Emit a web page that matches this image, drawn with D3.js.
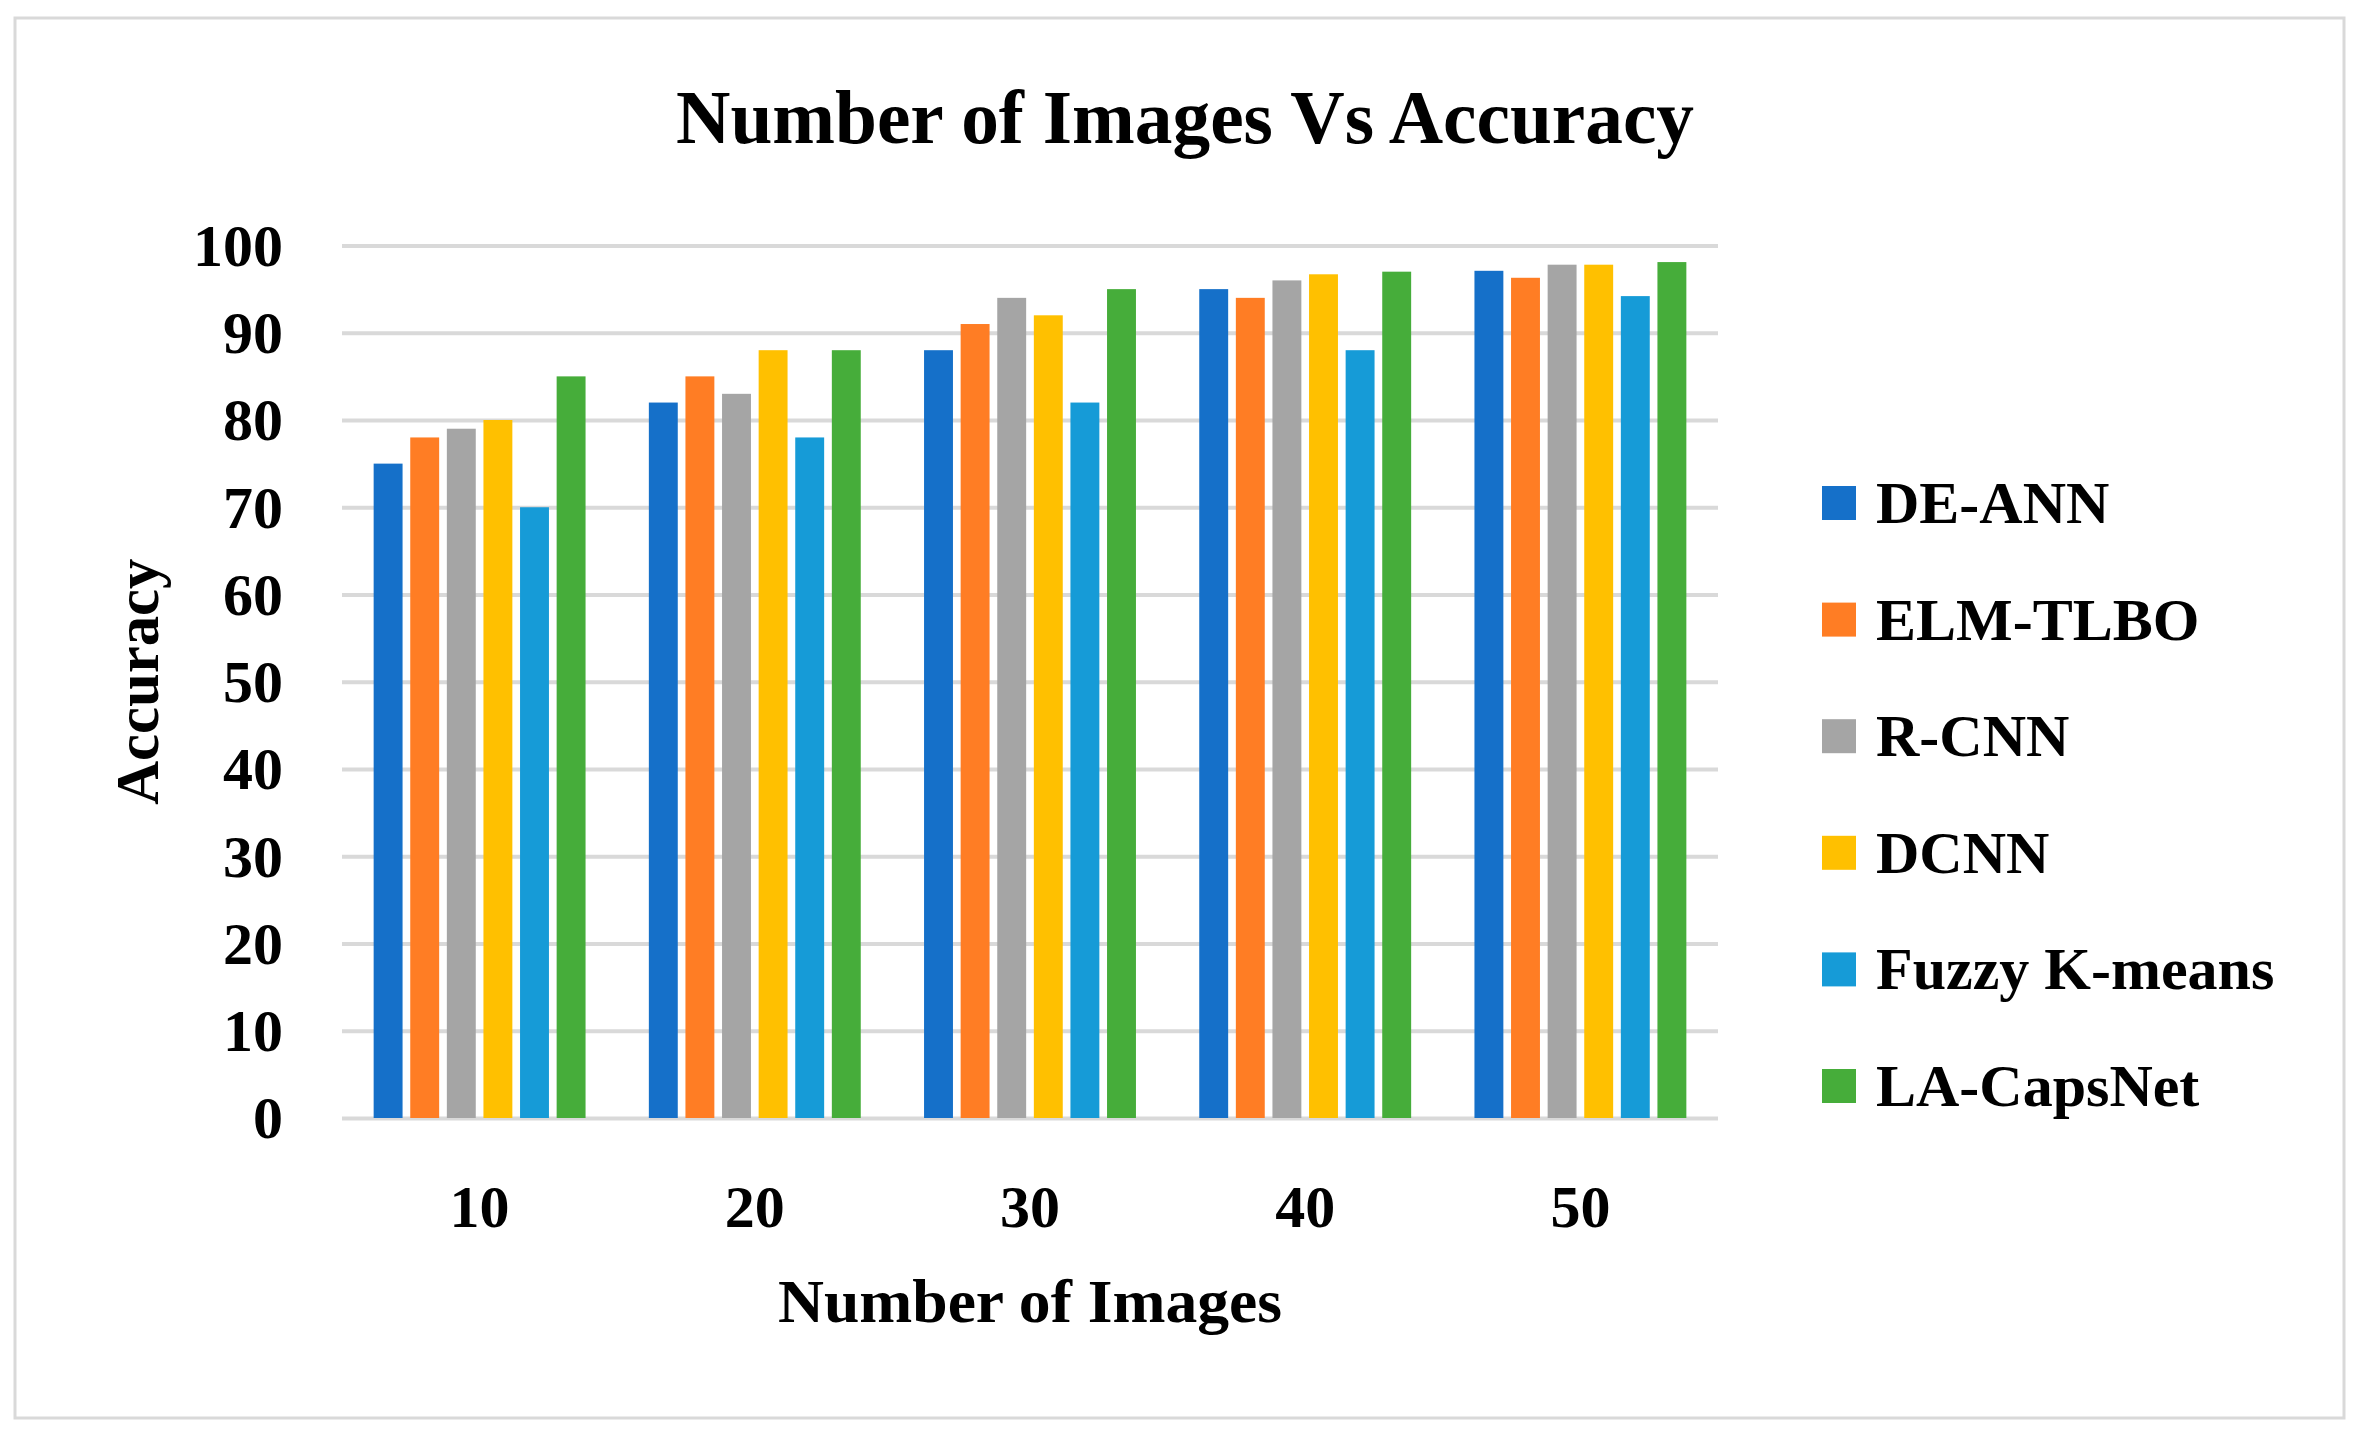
<!DOCTYPE html>
<html>
<head>
<meta charset="utf-8">
<script src="https://cdn.jsdelivr.net/npm/d3@7"></script>
<style>
  body { margin: 0; background: #ffffff; }
</style>
</head>
<body>
<script>
var w = 2362;
var h = 1440;

// chart values
var categories = ["10", "20", "30", "40", "50"];
var seriesNames = ["DE-ANN", "ELM-TLBO", "R-CNN", "DCNN", "Fuzzy K-means", "LA-CapsNet"];
var deAnn     = [75, 82, 88, 95, 97.1];
var elmTlbo   = [78, 85, 91, 94, 96.3];
var rCnn      = [79, 83, 94, 96, 97.8];
var dcnn      = [80, 88, 92, 96.7, 97.8];
var fuzzyK    = [70, 78, 82, 88, 94.2];
var laCapsNet = [85, 88, 95, 97, 98.1];
var yTicks = [0, 10, 20, 30, 40, 50, 60, 70, 80, 90, 100];

var seriesValues = [deAnn, elmTlbo, rCnn, dcnn, fuzzyK, laCapsNet];
var colors = ["#1570c9", "#ff7d24", "#a5a5a5", "#ffc000", "#169bd7", "#46ad3a"];

var fontFam = "'Liberation Serif', 'Times New Roman', serif";

// plot area (window.top is reserved, so use other names)
var plotLeft = 342, plotRight = 1718, plotTop = 245.5, plotBottom = 1118;
var plotW = plotRight - plotLeft;
var plotH = plotBottom - plotTop;

var svgContainer = d3.select("body").append("svg")
                                    .attr("width", w)
                                    .attr("height", h);

svgContainer.append("rect")
            .attr("x", 0).attr("y", 0)
            .attr("width", w).attr("height", h)
            .style("fill", "#ffffff");

// light outer frame
svgContainer.append("rect")
            .attr("x", 15).attr("y", 18)
            .attr("width", 2329).attr("height", 1400)
            .style("fill", "none")
            .style("stroke", "#d9d9d9")
            .style("stroke-width", 3);

var x0 = d3.scaleBand()
           .domain(categories)
           .range([0, plotW])
           .paddingInner(0.23)
           .paddingOuter(0.115);

var x1 = d3.scaleBand()
           .domain(seriesNames)
           .range([0, x0.bandwidth()])
           .paddingInner(0.21);

var y = d3.scaleLinear()
          .domain([0, 100])
          .range([plotH, 0]);

var plot = svgContainer.append("g")
                       .attr("transform", "translate(" + plotLeft + "," + plotTop + ")");

// y axis with gridlines
var yAxis = plot.append("g")
                .call(d3.axisLeft(y).tickValues(yTicks).tickSize(-plotW).tickPadding(59));

yAxis.select(".domain").remove();
yAxis.selectAll("line")
     .style("stroke", "#d9d9d9")
     .style("stroke-width", 4);
yAxis.selectAll("text")
     .style("font-family", fontFam)
     .style("font-weight", "bold")
     .style("font-size", "60px")
     .style("fill", "#000000")
     .attr("dy", "0.33em");

// x axis labels
var xAxis = plot.append("g")
                .attr("transform", "translate(0," + plotH + ")")
                .call(d3.axisBottom(x0).tickSize(0).tickPadding(0));

xAxis.select(".domain").remove();
xAxis.selectAll("text")
     .attr("y", 109)
     .attr("dy", 0)
     .style("font-family", fontFam)
     .style("font-weight", "bold")
     .style("font-size", "60px")
     .style("fill", "#000000");

// bars, one group per category
var groups = plot.selectAll("g.cat")
                 .data(categories)
                 .enter()
                 .append("g")
                 .attr("class", "cat")
                 .attr("transform", function(d){ return "translate(" + x0(d) + ",0)"; });

groups.selectAll("rect")
      .data(function(d, i){
          return seriesNames.map(function(s, j){ return {name: s, value: seriesValues[j][i], color: colors[j]}; });
      })
      .enter()
      .append("rect")
      .attr("x", function(d){ return x1(d.name); })
      .attr("y", function(d){ return y(d.value); })
      .attr("width", x1.bandwidth())
      .attr("height", function(d){ return y(0) - y(d.value); })
      .style("fill", function(d){ return d.color; });

// titles
svgContainer.append("text")
            .attr("x", 1185).attr("y", 143)
            .attr("text-anchor", "middle")
            .attr("textLength", 1018)
            .attr("lengthAdjust", "spacingAndGlyphs")
            .style("font-family", fontFam)
            .style("font-weight", "bold")
            .style("font-size", "76px")
            .text("Number of Images Vs Accuracy");

svgContainer.append("text")
            .attr("x", plotLeft + plotW / 2).attr("y", 1322)
            .attr("text-anchor", "middle")
            .attr("textLength", 504)
            .attr("lengthAdjust", "spacingAndGlyphs")
            .style("font-family", fontFam)
            .style("font-weight", "bold")
            .style("font-size", "61px")
            .text("Number of Images");

svgContainer.append("text")
            .attr("transform", "translate(158," + (plotTop + plotH / 2) + ") rotate(-90)")
            .attr("text-anchor", "middle")
            .attr("textLength", 246)
            .attr("lengthAdjust", "spacingAndGlyphs")
            .style("font-family", fontFam)
            .style("font-weight", "bold")
            .style("font-size", "61px")
            .text("Accuracy");

// legend
var legend = svgContainer.append("g")
                         .attr("transform", "translate(1822,503)");

var items = legend.selectAll("g")
                  .data(seriesNames)
                  .enter()
                  .append("g")
                  .attr("transform", function(d, i){ return "translate(0," + (i * 116.6) + ")"; });

items.append("rect")
     .attr("x", 0).attr("y", -17)
     .attr("width", 34).attr("height", 34)
     .style("fill", function(d, i){ return colors[i]; });

items.append("text")
     .attr("x", 54).attr("y", 20)
     .style("font-family", fontFam)
     .style("font-weight", "bold")
     .style("font-size", "60px")
     .text(function(d){ return d; });
</script>
</body>
</html>
